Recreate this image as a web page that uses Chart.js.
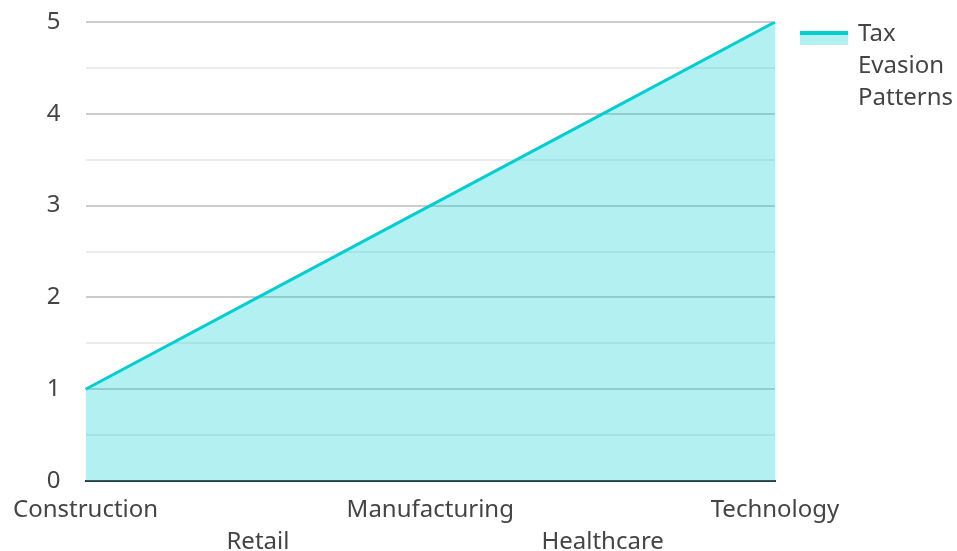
<!DOCTYPE html>
<html>
<head>
<meta charset="utf-8">
<script src="https://cdn.jsdelivr.net/npm/chart.js@4"></script>
<style>
  html, body { margin: 0; padding: 0; background: #fff; }
  #wrap { width: 957px; height: 551px; }
</style>
</head>
<body>
<div id="wrap"><canvas id="grafiek"></canvas></div>
<script>
const sectoren = ["Construction", "Retail", "Manufacturing", "Healthcare", "Technology"];
const patronen = [1, 2, 3, 4, 5];
const reeksNaam = ["Tax", "Evasion", "Patterns"];

const lijnKleur = "#00CED1";
const vulKleur = "rgba(0,206,209,0.3)";
const tekstKleur = "#444";

// ---- legende zelf tekenen (tekst over drie regels) ----
const legendePlugin = {
    id: "legende",
    afterDraw(chart) {
        const c = chart.ctx;
        const x = chart.chartArea.right + 25;
        const y = chart.chartArea.top + 9;
        c.save();
        c.fillStyle = vulKleur;
        c.fillRect(x, y, 48, 14);
        c.fillStyle = lijnKleur;
        c.fillRect(x, y, 48, 4);
        c.fillStyle = tekstKleur;
        c.font = "24px 'Noto Sans'";
        c.textBaseline = "middle";
        reeksNaam.forEach((regel, i) => {
            c.fillText(regel, x + 58, y + 3 + i * 32);
        });
        c.restore();
    }
};

const ctx = document.getElementById("grafiek").getContext("2d");
const grafiek = new Chart(ctx, {
    type: "line",
    data: {
        labels: sectoren,
        datasets: [{
            label: reeksNaam.join(" "),
            data: patronen,
            borderColor: lijnKleur,
            backgroundColor: vulKleur,
            borderWidth: 3,
            fill: "origin",
            pointRadius: 0,
            tension: 0
        }]
    },
    options: {
        responsive: true,
        maintainAspectRatio: false,
        animation: false,
        layout: { padding: { top: 22, right: 182, left: 21, bottom: -20 } },
        plugins: {
            legend: { display: false },
            tooltip: { enabled: false }
        },
        scales: {
            x: {
                grid: { display: false, drawTicks: false },
                border: { display: true, color: "#333", width: 2 },
                ticks: {
                    color: tekstKleur,
                    font: { family: "'Noto Sans'", size: 24, lineHeight: 1.333 },
                    maxRotation: 0,
                    autoSkip: false,
                    padding: 13,
                    callback: function (v, i) {
                        const naam = this.getLabelForValue(v);
                        return i % 2 === 1 ? ["", naam] : naam;
                    }
                }
            },
            y: {
                min: 0,
                max: 5,
                border: { display: false },
                afterFit: (s) => { s.paddingTop = 0; },
                grid: {
                    drawTicks: false,
                    lineWidth: 2,
                    color: (g) => Number.isInteger(g.tick.value) ? "rgba(0,0,0,0.2)" : "rgba(0,0,0,0.08)"
                },
                ticks: {
                    stepSize: 0.5,
                    color: tekstKleur,
                    font: { family: "'Noto Sans'", size: 24 },
                    padding: 25,
                    callback: (v) => Number.isInteger(v) ? v : ""
                }
            }
        }
    },
    plugins: [legendePlugin]
});
</script>
</body>
</html>
